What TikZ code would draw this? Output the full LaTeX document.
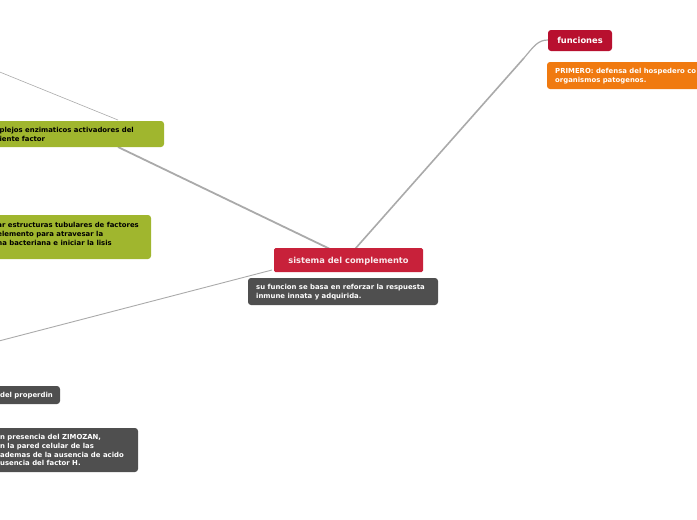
\documentclass[tikz,border=0pt]{standalone}
\usepackage{fontspec}
\setmainfont{DejaVu Sans}
\definecolor{grn}{HTML}{A0B62E}
\definecolor{drk}{HTML}{4F4F4F}
\definecolor{rd}{HTML}{C8213A}
\definecolor{rd2}{HTML}{B8102F}
\definecolor{org}{HTML}{F07A10}
\definecolor{ln}{HTML}{AAAAAA}
\begin{document}
\begin{tikzpicture}[x=1pt,y=-1pt,
  box/.style={rounded corners=3pt,draw=none},
  txt/.style={inner sep=0pt,align=left,font=\bfseries\fontsize{6.9}{8.8}\selectfont,text=white},
  dtxt/.style={txt,text=black}]
\useasboundingbox (0,0) rectangle (697,520);
\clip (0,0) rectangle (697,520);
\coordinate (ul) at (-20,64);
\coordinate (ll) at (-5,342);
% connectors
\draw[ln,line width=0.6pt] (ul) -- (118,120);
\draw[ln,line width=1.8pt] (118,147) -- (330,249);
\draw[ln,line width=0.9pt] (ll) -- (272,270);
\draw[ln,line width=1.6pt] (355,249) -- (524,58);
\draw[ln,line width=1.2pt] (524,58) .. controls (534,46) and (538,40) .. (548,40);
% boxes
\fill[grn,box] (-10,121) rectangle (164,147);
\node[dtxt,anchor=north east] (g1) at (134,127.5) {plejos enzimaticos activadores del\\iente factor};
\fill[grn,box] (-10,215) rectangle (151,259);
\node[dtxt,anchor=north east] (g2) at (139,222.5) {ar estructuras tubulares de factores\\elemento para atravesar la\\na bacteriana e iniciar la lisis};
\fill[drk,box] (-10,386) rectangle (60,404);
\node[txt,anchor=north east] (p) at (53,392) {del properdin};
\fill[drk,box] (-10,428) rectangle (138,472);
\node[txt,anchor=north east] (z) at (124,434) {n presencia del ZIMOZAN,\\n la pared celular de las\\ademas de la ausencia de acido\\ usencia del factor H.};
\fill[rd,box,rounded corners=1.5pt] (274,248) rectangle (423,272);
\node[txt,font=\bfseries\fontsize{8.3}{10}\selectfont,text=white!90!rd] (c) at (348.5,261) {sistema del complemento};
\fill[drk,box] (248,278) rectangle (438,305);
\node[txt,anchor=north west] (s) at (256,284) {su funcion se basa en reforzar la respuesta\\inmune innata y adquirida.};
\fill[rd2,box] (548,30) rectangle (612,51);
\node[txt,font=\bfseries\fontsize{8.3}{10}\selectfont] (f) at (580,40.5) {funciones};
\fill[org,box] (547,62) rectangle (710,89);
\node[txt,anchor=north west] (o) at (555,68) {PRIMERO: defensa del hospedero co\\organismos patogenos.};
\end{tikzpicture}
\end{document}
